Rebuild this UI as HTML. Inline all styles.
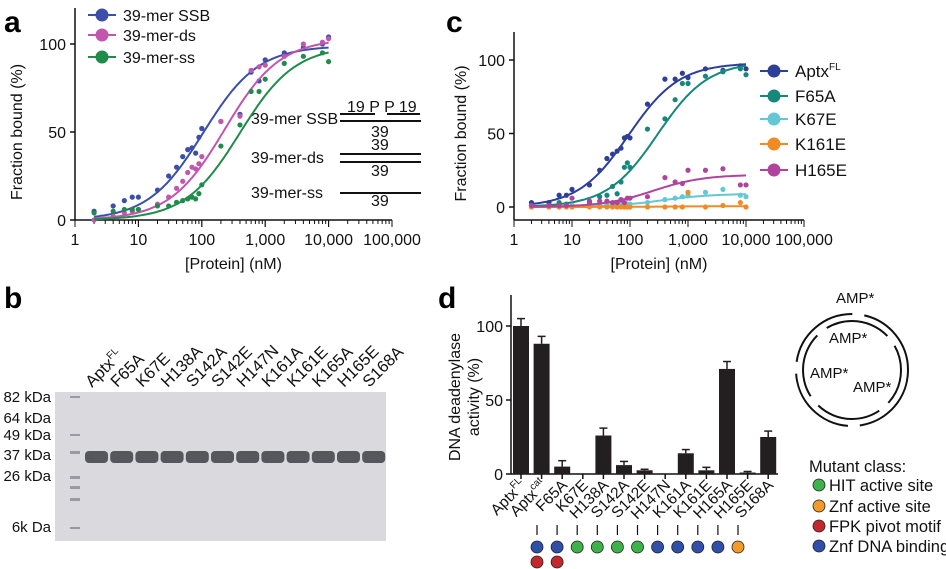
<!DOCTYPE html>
<html><head><meta charset="utf-8">
<style>
html,body{margin:0;padding:0;background:#fff;}
svg{display:block;font-family:"Liberation Sans",Arial,sans-serif;}
</style></head>
<body>
<svg id="fig" width="946" height="569" viewBox="0 0 946 569" xmlns="http://www.w3.org/2000/svg">
<text x="4" y="32" font-size="30" font-weight="bold">a</text>
<text x="4" y="308" font-size="30" font-weight="bold">b</text>
<text x="446" y="32" font-size="30" font-weight="bold">c</text>
<text x="438" y="308" font-size="30" font-weight="bold">d</text>

<g font-size="16" fill="#111">
<text x="347" y="112">19 P P 19</text>
<text x="251" y="124">39-mer SSB</text>
<line x1="340" y1="114" x2="375" y2="114" stroke="#111" stroke-width="2"/>
<line x1="387" y1="114" x2="420" y2="114" stroke="#111" stroke-width="2"/>
<line x1="340" y1="121" x2="421" y2="121" stroke="#111" stroke-width="2"/>
<text x="371" y="137">39</text>
<text x="371" y="150">39</text>
<text x="251" y="163">39-mer-ds</text>
<line x1="340" y1="154" x2="421" y2="154" stroke="#111" stroke-width="2"/>
<line x1="340" y1="162" x2="421" y2="162" stroke="#111" stroke-width="2"/>
<text x="371" y="176">39</text>
<text x="251" y="198">39-mer-ss</text>
<line x1="340" y1="193" x2="421" y2="193" stroke="#111" stroke-width="2"/>
<text x="371" y="206">39</text>
</g>

<g>
<rect x="55" y="392" width="331" height="149" fill="#d9d9de"/>
<g font-size="15" fill="#111" text-anchor="end">
<text x="51" y="402">82 kDa</text>
<text x="51" y="423">64 kDa</text>
<text x="51" y="440">49 kDa</text>
<text x="51" y="460">37 kDa</text>
<text x="51" y="481">26 kDa</text>
<text x="51" y="532">6k Da</text>
</g>
<g fill="#9a9aa2">
<rect x="70" y="396" width="10" height="2"/><rect x="70" y="434" width="10" height="2"/>
<rect x="70" y="451" width="10" height="3"/><rect x="70" y="476" width="10" height="3"/>
<rect x="70" y="486" width="10" height="3"/><rect x="70" y="498" width="10" height="3"/>
<rect x="70" y="527" width="10" height="2"/>
</g>
<g id="gelLanes"></g>
</g>

<g font-size="16.5" fill="#111">
<text x="809" y="472">Mutant class:</text>
<circle cx="819" cy="485" r="6" fill="#3db24a" stroke="#222" stroke-width="0.8"/><text x="829" y="491">HIT active site</text>
<circle cx="819" cy="506" r="6" fill="#f39a2a" stroke="#222" stroke-width="0.8"/><text x="829" y="512">Znf active site</text>
<circle cx="819" cy="526" r="6" fill="#c2282e" stroke="#222" stroke-width="0.8"/><text x="829" y="532">FPK pivot motif</text>
<circle cx="819" cy="546" r="6" fill="#2f4fa8" stroke="#222" stroke-width="0.8"/><text x="829" y="552">Znf DNA binding</text>
</g>
<g fill="none" stroke="#111" stroke-width="2">
<circle cx="852" cy="370" r="56" stroke-dasharray="80 12"/>
<circle cx="852" cy="370" r="49" stroke-dasharray="66 12" stroke-dashoffset="30"/>
<g fill="#111" stroke="none" font-size="15">
<text x="836" y="303">AMP*</text><text x="829" y="343">AMP*</text>
<text x="810" y="378">AMP*</text><text x="853" y="392">AMP*</text>
</g>
</g>
<g id="plots"></g>
</svg>
<script>
const concA = [2,4,6,8,10,20,30,40,50,60,70,80,90,100,200,400,600,800,1000,2000,4000,8000,10000];
const ssbVals = [5,8,11,13,13,17,25,30,36,40,41,38,47,52,56,60,84,79,91,95,98,100,104];
const dsVals  = [0,2,4,5,6,9,13,18,22,27,30,29,32,36,56,59,85,87,88,93,100,101,103];
const ssVals  = [4,5,6,6,6,8,8,10,11,12,13,12,15,20,42,54,73,73,80,89,93,95,90];
const seriesNamesA = ["39-mer SSB","39-mer-ds","39-mer-ss"];
const fitTopA = [99,103,99];
const fitKdA = [105,230,400];
const concC = [2,4,6,8,10,20,30,40,50,60,70,80,90,100,200,400,600,800,1000,2000,4000,8000,10000];
const aptxVals = [3,3,8,8,12,15,25,33,36,38,40,47,48,47,70,87,87,91,88,94,93,96,94];
const f65aVals = [1,1,3,2,1,3,7,8,14,9,17,27,30,27,53,60,73,84,84,89,92,94,90];
const k67eVals = [0,0,0,0,1,1,1,2,2,2,2,2,2,2,3,5,6,7,8,10,12,8,7];
const k161eVals = [0,0,0,0,0,0,0,0,0,0,0,0,0,0,0,0,0,0,10,0,1,3,0];
const h165eVals = [1,1,1,1,6,4,4,4,3,3,5,3,6,6,7,20,17,16,25,25,26,15,15];
const seriesNamesC = ["Aptx","F65A","K67E","K161E","H165E"];
const fitTopC = [98,99,9,0.5,22];
const fitKdC = [95,300,350,300,250];
const categoriesD = ["Aptx FL","Aptx cat","F65A","K67E","H138A","S142A","S142E","H147N","K161A","K161E","H165A","H165E","S168A"];
const activityD = [100,88,5,0,26,6,2.5,0,14,2.5,71,1,25];
const errorD = [5,5,4,0,5,2.5,0.7,0,2.5,2,5,0.7,4];
const classRow1 = ["blue","blue","green","green","green","green","blue","blue","blue","blue","orange"];
const classRow2 = ["red","red"];
const gelLanes = ["Aptx","F65A","K67E","H138A","S142A","S142E","H147N","K161A","K161E","K165A","H165E","S168A"];
const yTicks = [0,50,100];
const xTickLabels = ["1","10","100","1,000","10,000","100,000"];

const NS="http://www.w3.org/2000/svg";
const root=document.getElementById('plots');
function mk(tag,attrs,parent){const e=document.createElementNS(NS,tag);for(const k in attrs)e.setAttribute(k,attrs[k]);(parent||root).appendChild(e);return e;}
const dotColor={blue:"#2f4fa8",green:"#3db24a",orange:"#f39a2a",red:"#c2282e"};

function logPanel(o){
  const sx=v=>o.x0+Math.log10(v)*o.dec;
  const sy=v=>o.y0-(v/100)*(o.y0-o.y100);
  let el;
  el=mk('line',{x1:o.x0,y1:o.yTop,x2:o.x0,y2:o.axisY,stroke:'#111','stroke-width':1.5});
  
  
  el=mk('line',{x1:o.x0,y1:o.axisY,x2:o.x0+5*o.dec,y2:o.axisY,stroke:'#111','stroke-width':1.5});
  
  
  yTicks.forEach(t=>{
    mk('line',{x1:o.x0-5,y1:sy(t),x2:o.x0,y2:sy(t),stroke:'#111','stroke-width':1.5});
    el=mk('text',{x:o.x0-9,y:sy(t)+6,'font-size':16,'text-anchor':'end',fill:'#111'});
    el.textContent=t;
    
    
  });
  for(let d=0;d<5;d++)for(let m=1;m<=10;m++){
    const v=Math.pow(10,d)*m;const x=sx(v);
    mk('line',{x1:x,y1:o.axisY,x2:x,y2:o.axisY+(m==1||m==10?7:4),stroke:'#111','stroke-width':1});
  }
  xTickLabels.forEach((l,i)=>{
    el=mk('text',{x:o.x0+i*o.dec,y:o.axisY+25,'font-size':16,'text-anchor':'middle',fill:'#111'});
    el.textContent=l;
    
    
  });
  el=mk('text',{x:o.x0+2.5*o.dec,y:o.axisY+49,'font-size':16,'text-anchor':'middle',fill:'#111'});
  el.textContent='[Protein] (nM)';
  
  
  el=mk('text',{x:0,y:0,'font-size':16,'text-anchor':'middle',fill:'#111',transform:`translate(${o.titleX},${sy(50)}) rotate(-90)`});
  el.textContent='Fraction bound (%)';
  
  
  o.series.forEach((s,si)=>{
    let d='';
    for(let k=0;k<=100;k++){const lv=Math.log10(2)+k/100*(4-Math.log10(2));const c=Math.pow(10,lv);
      const y=s.top*c/(c+s.kd);d+=(k?'L':'M')+sx(c).toFixed(1)+','+sy(y).toFixed(1);}
    el=mk('path',{d:d,fill:'none',stroke:s.color,'stroke-width':2});
    
    
    s.vals.forEach((v,i)=>{
      el=mk('circle',{cx:sx(o.conc[i]),cy:sy(v),r:2.6,fill:s.color});
      
      
    });
    const ly=o.legY[si];
    mk('line',{x1:o.legX-14,y1:ly,x2:o.legX+14,y2:ly,stroke:s.color,'stroke-width':2});
    el=mk('circle',{cx:o.legX,cy:ly,r:6.5,fill:s.color});
    
    
    el=mk('text',{x:o.legX+21,y:ly+6,'font-size':o.legFont,fill:'#111'});
    el.textContent=s.name;
    
    
    if(s.sup){const t=mk('tspan',{'font-size':10,dy:-7},el);t.textContent=s.sup;}
  });
}
logPanel({p:'panel-a',x0:75,dec:63.4,y0:220,y100:44,yTop:8,axisY:220,titleX:22,conc:concA,legX:102,legY:[15,35,57],legFont:16,
  series:[{name:seriesNamesA[0],vals:ssbVals,color:'#3b4fa8',top:fitTopA[0],kd:fitKdA[0]},
          {name:seriesNamesA[1],vals:dsVals,color:'#c255ad',top:fitTopA[1],kd:fitKdA[1]},
          {name:seriesNamesA[2],vals:ssVals,color:'#1f8c4c',top:fitTopA[2],kd:fitKdA[2]}]});
logPanel({p:'panel-c',x0:514,dec:58,y0:207,y100:60,yTop:32,axisY:220,titleX:466,conc:concC,legX:774,legY:[71,96,119,144,170],legFont:17,
  series:[{name:seriesNamesC[0],sup:'FL',vals:aptxVals,color:'#2d3f98',top:fitTopC[0],kd:fitKdC[0]},
          {name:seriesNamesC[1],vals:f65aVals,color:'#15877b',top:fitTopC[1],kd:fitKdC[1]},
          {name:seriesNamesC[2],vals:k67eVals,color:'#62c8d6',top:fitTopC[2],kd:fitKdC[2]},
          {name:seriesNamesC[3],vals:k161eVals,color:'#f08a22',top:fitTopC[3],kd:fitKdC[3]},
          {name:seriesNamesC[4],vals:h165eVals,color:'#b0449c',top:fitTopC[4],kd:fitKdC[4]}]});

const gl=document.getElementById('gelLanes');
gelLanes.forEach((n,i)=>{
  const cx=96+i*25.2;
  let el=mk('rect',{x:cx-11,y:451,width:23,height:12,rx:4,fill:'#56565d'},gl);
  
  
  el=mk('text',{x:0,y:0,'font-size':16.5,fill:'#111',transform:`translate(${cx-4},${388}) rotate(-45)`},gl);
  el.textContent=n;
  
  
  if(i==0){const t=mk('tspan',{'font-size':10,dy:-7},el);t.textContent='FL';}
});

const dx0=521,dstep=20.6,dy0=474,dy100=326,dAxisX=511;
const syD=v=>dy0-v/100*(dy0-dy100);
let el=mk('line',{x1:dAxisX,y1:295,x2:dAxisX,y2:dy0,stroke:'#111','stroke-width':1.5});


el=mk('line',{x1:dAxisX,y1:dy0,x2:778,y2:dy0,stroke:'#111','stroke-width':1.5});


yTicks.forEach(t=>{
  mk('line',{x1:dAxisX-5,y1:syD(t),x2:dAxisX,y2:syD(t),stroke:'#111','stroke-width':1.5});
  el=mk('text',{x:dAxisX-8,y:syD(t)+6,'font-size':16,'text-anchor':'end',fill:'#111'});
  el.textContent=t;
  
  
});
el=mk('text',{x:0,y:0,'font-size':16,'text-anchor':'middle',fill:'#111',transform:`translate(460,397) rotate(-90)`});
el.textContent='DNA deadenylase';


el=mk('text',{x:0,y:0,'font-size':16,'text-anchor':'middle',fill:'#111',transform:`translate(479,397) rotate(-90)`});
el.textContent='activity (%)';


categoriesD.forEach((c,i)=>{
  const cx=dx0+i*dstep;
  if(activityD[i]>0){
    el=mk('rect',{x:cx-8,y:syD(activityD[i]),width:16,height:dy0-syD(activityD[i]),fill:'#231f20'});
    
    
    const ey=syD(activityD[i]+errorD[i]);
    mk('line',{x1:cx,y1:syD(activityD[i]),x2:cx,y2:ey,stroke:'#231f20','stroke-width':1.5});
    mk('line',{x1:cx-4,y1:ey,x2:cx+4,y2:ey,stroke:'#231f20','stroke-width':1.5});
  }
  mk('line',{x1:cx,y1:dy0,x2:cx,y2:dy0+5,stroke:'#111','stroke-width':1.5});
  const parts=c.split(' ');
  el=mk('text',{x:0,y:0,'font-size':15.5,'text-anchor':'end',fill:'#111',transform:`translate(${cx+6},${dy0+12}) rotate(-45)`});
  el.textContent=parts[0];
  
  
  if(parts[1]){const t=mk('tspan',{'font-size':10,dy:-7},el);t.textContent=parts[1];}
});
classRow1.forEach((c,i)=>{
  const x=537+i*20.1;
  mk('line',{x1:x,y1:525,x2:x,y2:535,stroke:'#111','stroke-width':1.2});
  el=mk('circle',{cx:x,cy:547,r:6,fill:dotColor[c],stroke:'#222','stroke-width':0.8});
  
  
});
classRow2.forEach((c,i)=>{
  el=mk('circle',{cx:537+i*20.1,cy:562,r:6,fill:dotColor[c],stroke:'#222','stroke-width':0.8});
  
  
});
</script>
</body></html>
